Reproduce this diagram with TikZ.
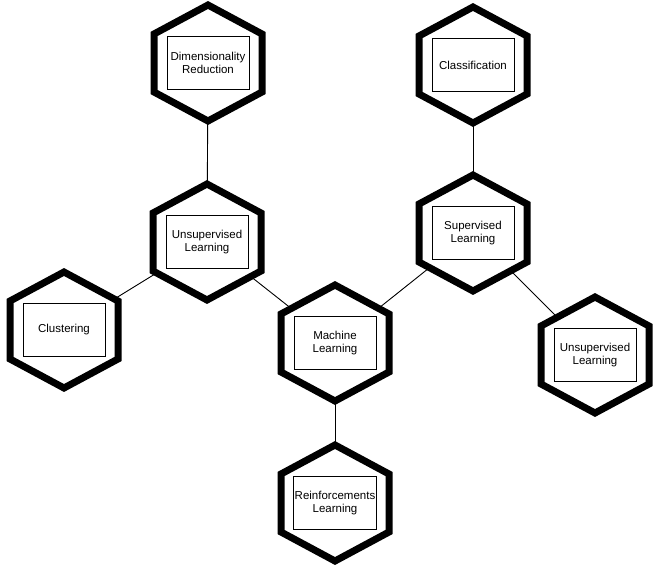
\documentclass[tikz,border=0pt]{standalone}
\usepackage{fontspec}
\setmainfont{Liberation Sans}
\begin{document}
\begin{tikzpicture}[x=1pt,y=-1pt,
  hexa/.style={draw=black,line width=7pt,fill=white,line join=miter},
  inbox/.style={draw=black,line width=0.8pt,fill=white,minimum width=82pt,minimum height=53pt,align=center,font=\fontsize{11.5}{13.5}\selectfont,inner sep=1pt},
  link/.style={draw=black,line width=0.9pt}]
\useasboundingbox (0,0) rectangle (658,568);
\newcommand{\hexat}[2]{\draw[hexa] (#1,#2-58) -- (#1+54,#2-29) -- (#1+54,#2+29) -- (#1,#2+58) -- (#1-54,#2+29) -- (#1-54,#2-29) -- cycle;}
\coordinate (cD) at (208,63);
\coordinate (cC) at (473,65);
\coordinate (cU) at (207,242);
\coordinate (cS) at (473,233);
\coordinate (cK) at (64,330);
\coordinate (cM) at (335,343);
\coordinate (cR) at (595,355);
\coordinate (cF) at (335,503);
\draw[link] (cD) -- (cU);
\draw[link] (cU) -- (cK);
\draw[link] (cU) -- (cM);
\draw[link] (cM) -- (cS);
\draw[link] (cS) -- (cC);
\draw[link] (cS) -- (cR);
\draw[link] (cM) -- (cF);
\hexat{208}{63}\hexat{473}{65}\hexat{207}{242}\hexat{473}{233}
\hexat{64}{330}\hexat{335}{343}\hexat{595}{355}\hexat{335}{503}
\node[inbox] (d) at (cD) {Dimensionality\\Reduction};
\node[inbox] (c) at (cC) {Classification};
\node[inbox] (u) at (cU) {Unsupervised\\Learning};
\node[inbox] (s) at (cS) {Supervised\\Learning};
\node[inbox] (k) at (cK) {Clustering};
\node[inbox] (m) at (cM) {Machine\\Learning};
\node[inbox] (r) at (cR) {Unsupervised\\Learning};
\node[inbox] (f) at (cF) {Reinforcements\\Learning};
\end{tikzpicture}
\end{document}
